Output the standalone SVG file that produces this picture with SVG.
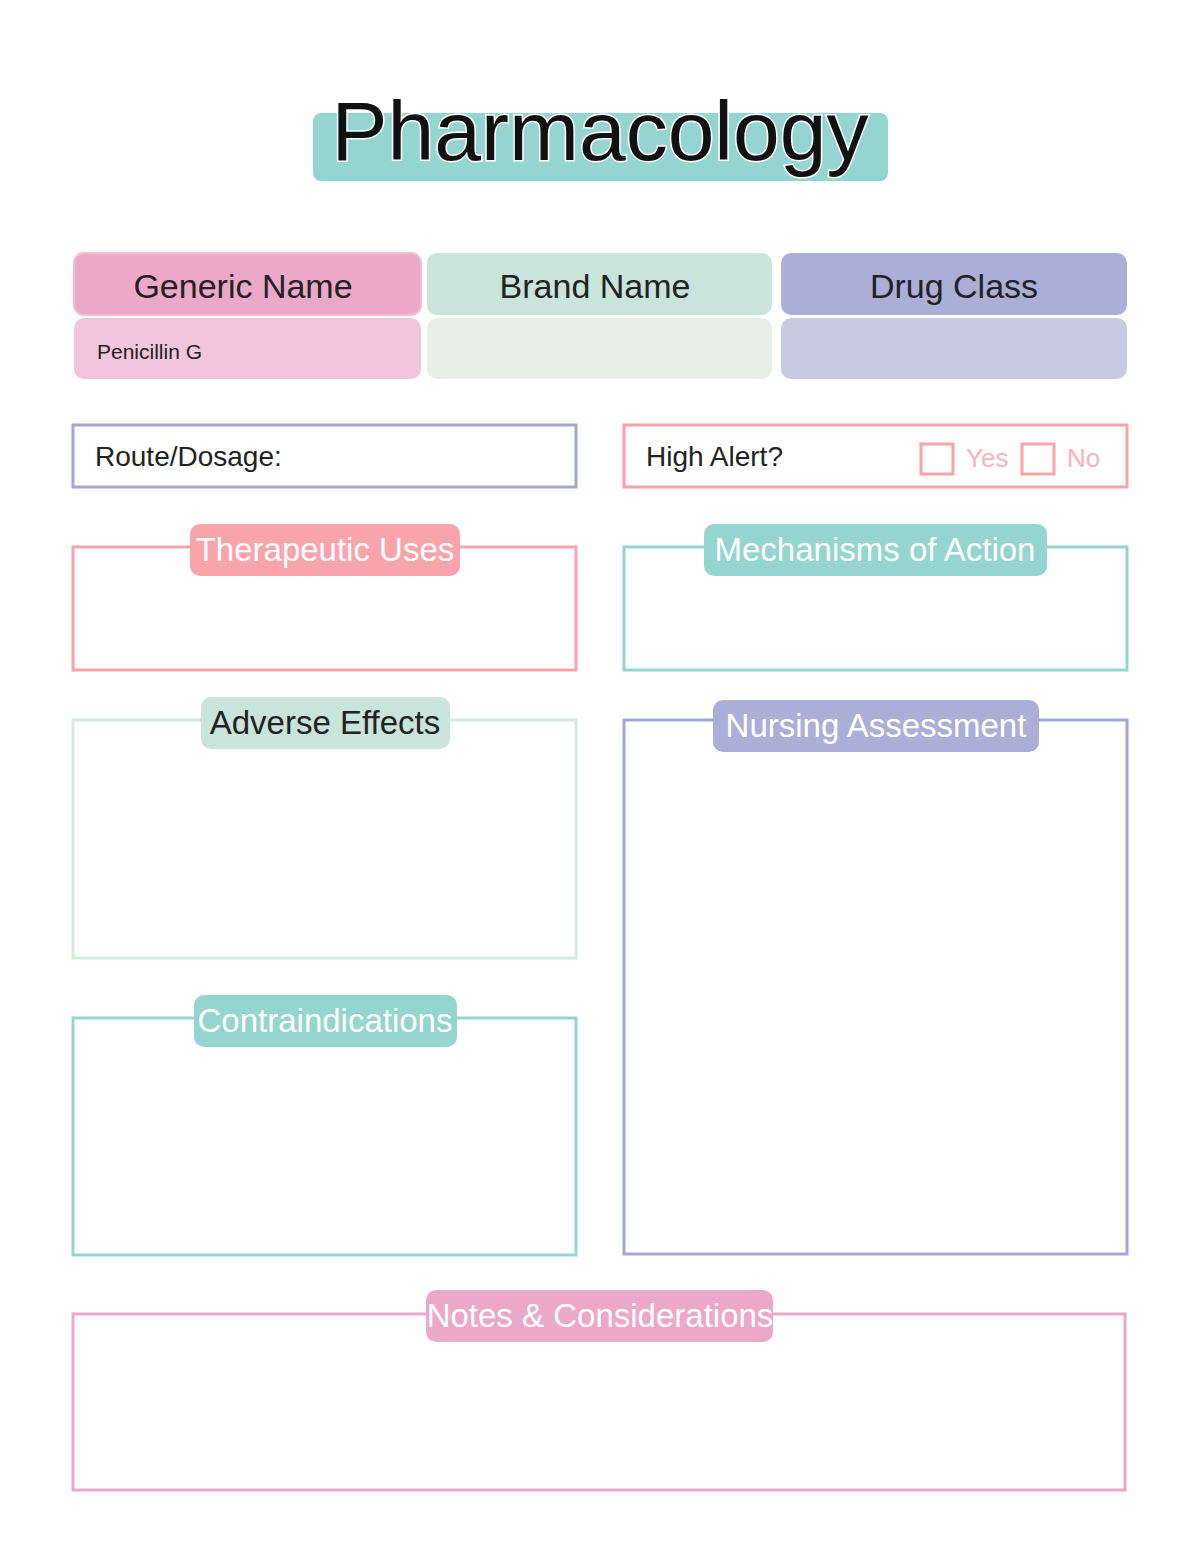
<svg xmlns="http://www.w3.org/2000/svg" width="1200" height="1553" viewBox="0 0 1200 1553">
<style>
.h{font-family:"Liberation Sans",sans-serif;font-size:34px;text-anchor:middle}
.lbl{font-family:"Liberation Sans",sans-serif;font-size:33px;text-anchor:middle;fill:#fff}
.box{fill:none;stroke-width:3}
</style>
<rect width="1200" height="1553" fill="#fff"/>
<g id="title">
<rect x="313" y="113" width="575" height="68" rx="8" fill="#94d5d0"/>
<text x="600" y="160" class="h" style="font-size:84px" fill="#111" stroke="#fff" stroke-width="3" paint-order="stroke">Pharmacology</text>
</g>
<g id="generic">
<rect x="74" y="253" width="347" height="62" rx="10" fill="#eca8c8" stroke="#f3c0cc" stroke-width="2"/>
<rect x="74" y="318" width="347" height="61" rx="10" fill="#f3c5da"/>
<text x="243" y="298" class="h" fill="#222">Generic Name</text>
<text x="97" y="359" font-family="Liberation Sans,sans-serif" font-size="21" fill="#222">Penicillin G</text>
</g>
<g id="brand">
<rect x="427" y="253" width="345" height="62" rx="10" fill="#c9e4da"/>
<rect x="427" y="318" width="345" height="61" rx="10" fill="#e6f0e6"/>
<text x="595" y="298" class="h" fill="#222">Brand Name</text>
</g>
<g id="class">
<rect x="781" y="253" width="346" height="62" rx="10" fill="#abaed6"/>
<rect x="781" y="318" width="346" height="61" rx="10" fill="#c8c9e3"/>
<text x="954" y="298" class="h" fill="#222">Drug Class</text>
</g>
<g id="route">
<rect x="73" y="425" width="503" height="62" class="box" stroke="#a4a6d8"/>
<text x="95" y="466" font-family="Liberation Sans,sans-serif" font-size="28" fill="#222">Route/Dosage:</text>
</g>
<g id="alert">
<rect x="624" y="425" width="503" height="62" class="box" stroke="#f9a3ab"/>
<text x="646" y="466" font-family="Liberation Sans,sans-serif" font-size="28" fill="#222">High Alert?</text>
<rect x="921" y="444" width="32" height="30" class="box" stroke="#f9a3ab"/>
<text x="966" y="467" font-family="Liberation Sans,sans-serif" font-size="26" fill="#f9b3bb">Yes</text>
<rect x="1022" y="444" width="32" height="30" class="box" stroke="#f9a3ab"/>
<text x="1067" y="467" font-family="Liberation Sans,sans-serif" font-size="26" fill="#f9b3bb">No</text>
</g>
<g id="therapeutic">
<rect x="73" y="547" width="503" height="123" class="box" stroke="#f9a3ab"/>
<rect x="190" y="524" width="270" height="52" rx="10" fill="#f9a3ab"/>
<text x="325" y="561" class="lbl">Therapeutic Uses</text>
</g>
<g id="mechanisms">
<rect x="624" y="547" width="503" height="123" class="box" stroke="#94d5d0"/>
<rect x="704" y="524" width="343" height="52" rx="10" fill="#94d5d0"/>
<text x="875" y="561" class="lbl">Mechanisms of Action</text>
</g>
<g id="adverse">
<rect x="73" y="720" width="503" height="238" class="box" stroke="#d6e9de"/>
<rect x="201" y="697" width="249" height="52" rx="10" fill="#c9e4da"/>
<text x="325" y="734" class="lbl" fill="#222" style="fill:#222">Adverse Effects</text>
</g>
<g id="nursing">
<rect x="624" y="720" width="503" height="534" class="box" stroke="#a4a6d8"/>
<rect x="713" y="700" width="326" height="52" rx="10" fill="#abaed6"/>
<text x="876" y="737" class="lbl">Nursing Assessment</text>
</g>
<g id="contra">
<rect x="73" y="1018" width="503" height="237" class="box" stroke="#94d5d0"/>
<rect x="194" y="995" width="263" height="52" rx="10" fill="#94d5d0"/>
<text x="325" y="1032" class="lbl">Contraindications</text>
</g>
<g id="notes">
<rect x="73" y="1314" width="1052" height="176" class="box" stroke="#eca8c8"/>
<rect x="426" y="1290" width="347" height="52" rx="10" fill="#eca8c8"/>
<text x="600" y="1327" class="lbl">Notes &amp; Considerations</text>
</g>
<g id="connectors"/>
</svg>
